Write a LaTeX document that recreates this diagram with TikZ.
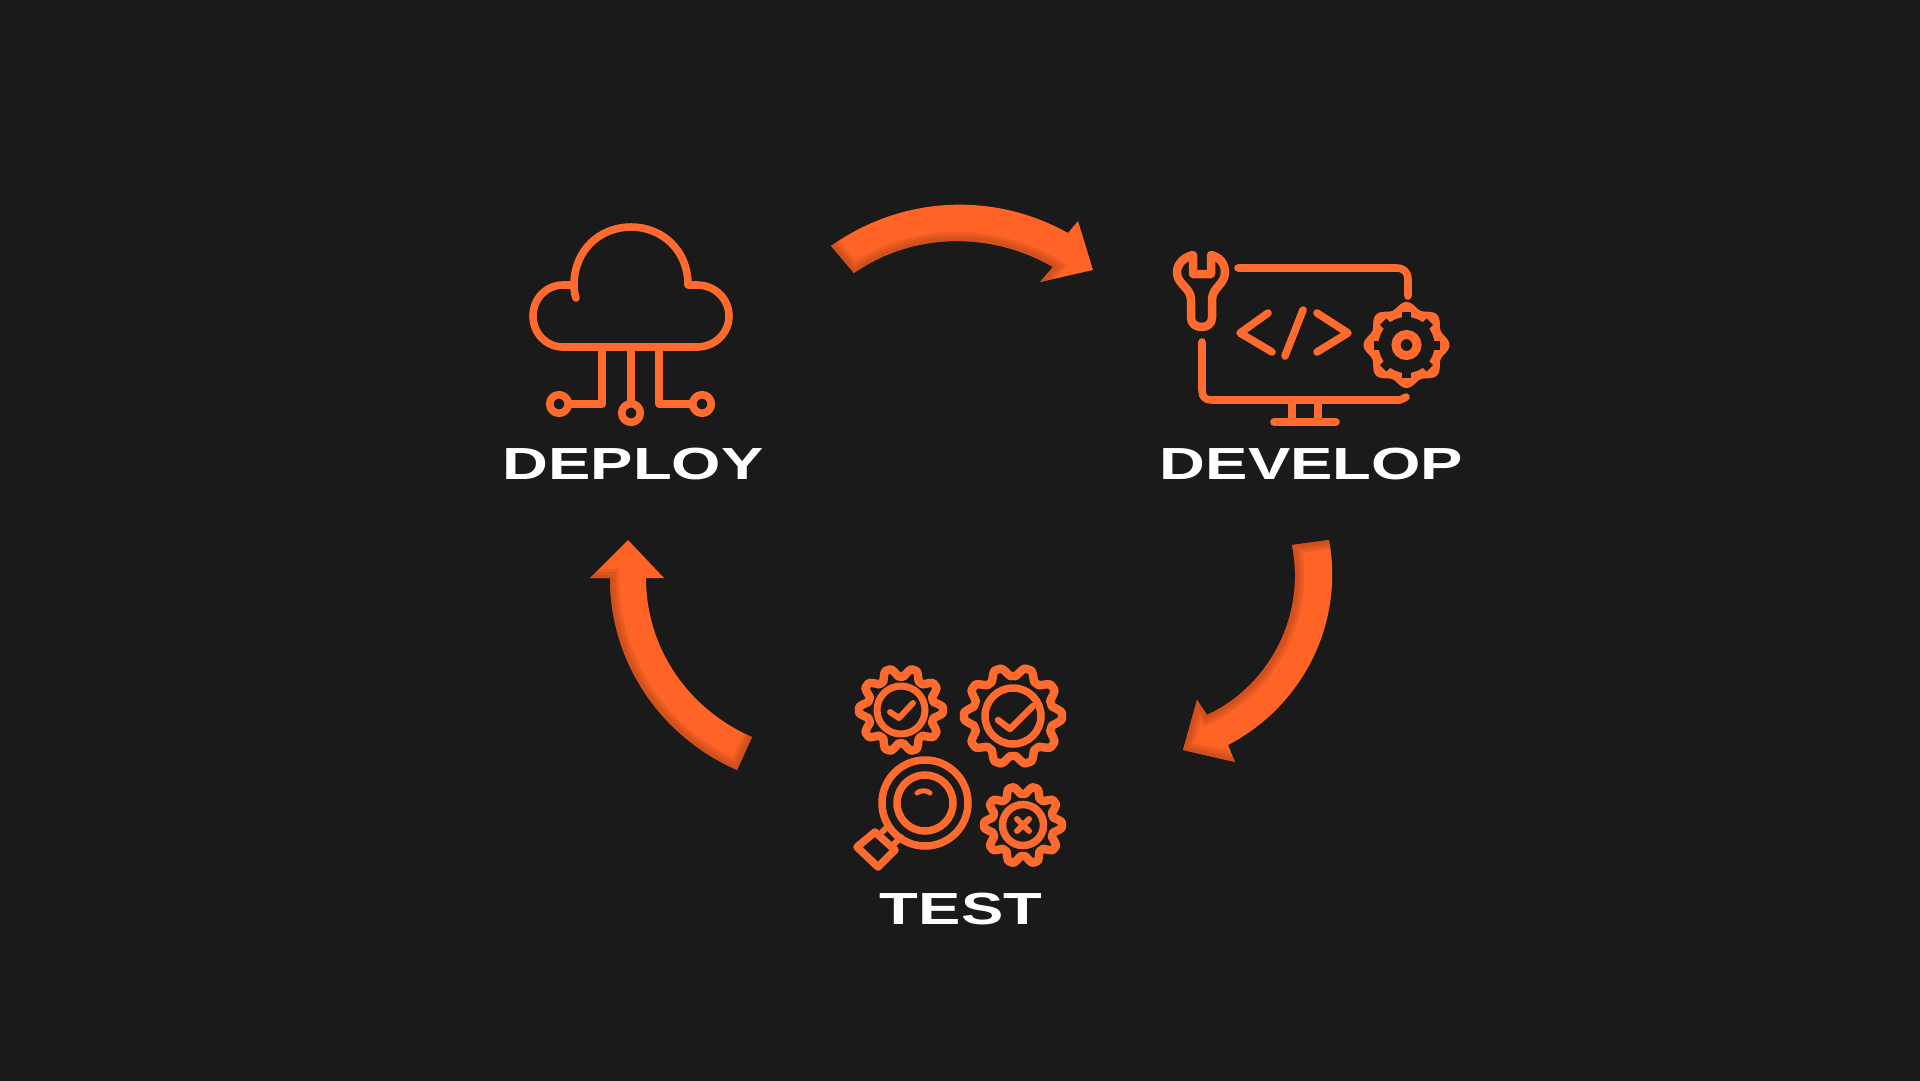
\documentclass[tikz,border=0pt]{standalone}
\usepackage{fontspec}
\newfontfamily\labelfont[FakeStretch=1.41]{Liberation Sans}
\definecolor{bgdark}{HTML}{1A1A1A}
\definecolor{iconorange}{HTML}{FF6B2E}
\definecolor{arroworange}{HTML}{FF6426}
\definecolor{arrowdark}{HTML}{B8461A}
\tikzset{
  iconline/.style={draw=iconorange,line width=7.6,line cap=round,line join=round},
  ringline/.style={draw=iconorange,line width=#1},
  steplabel/.style={anchor=base,text=white,inner sep=0,font=\labelfont\bfseries\fontsize{45}{45}\selectfont},
}
% r(t) = R + a*clipped cosine, n teeth
\newcommand{\gearline}[5]{
  \draw[iconline,line width=8.4] plot[domain=0:360,samples=181]
   ({#1+(#3+#4*max(-1,min(1,1.3*cos(#5*\x))))*cos(\x)},{#2+(#3+#4*max(-1,min(1,1.3*cos(#5*\x))))*sin(\x)}) -- cycle;
}
% soft dark edge inside an arrow
\newcommand{\shadeedge}[1]{
  \foreach \w in {18,12,7} {\draw[arrowdark,opacity=.28,line width=\w] #1;}
}
\begin{document}
\begin{tikzpicture}[x=1pt,y=-1pt]
  \useasboundingbox (0,0) rectangle (1920,1080);
  \fill[bgdark] (-3,-3) rectangle (1923,1083);

  % arrow deploy to develop
  \begin{scope}
    \path[clip] (831,246) .. controls (901,196) and (993,191) .. (1068,233) -- (1078,221) -- (1093,270) -- (1040,282) -- (1053,267) .. controls (991,231) and (913,232) .. (854,273) -- cycle;
    \fill[arroworange] (800,180) rectangle (1100,290);
    \shadeedge{(831,246) -- (854,273) .. controls (913,232) and (991,231) .. (1053,267) -- (1040,282)}
  \end{scope}
  % arrow develop to test
  \begin{scope}
    \path[clip] (1329,540) .. controls (1344.5,623) and (1303,706) .. (1228,745) -- (1235,762) -- (1183,750) -- (1197,700) -- (1207,715) .. controls (1271,685) and (1306,614) .. (1292,545) -- cycle;
    \fill[arroworange] (1170,530) rectangle (1350,770);
    \shadeedge{(1329,540) -- (1292,545) .. controls (1306,614) and (1271,685) .. (1207,715) -- (1197,700) -- (1183,750) -- (1235,762)}
  \end{scope}
  % arrow test to deploy
  \begin{scope}
    \path[clip] (628,540) -- (664,578) -- (646,578) .. controls (646,648) and (688,709) .. (752,737) -- (737,770) .. controls (660,736) and (610,662) .. (610,578) -- (590,578) -- cycle;
    \fill[arroworange] (580,530) rectangle (760,780);
    \shadeedge{(752,737) -- (737,770) .. controls (660,736) and (610,662) .. (610,578) -- (590,578)}
  \end{scope}

  % deploy icon
  \draw[iconline] (576,298) .. controls (574,292) and (574,288) .. (574,285)
    .. controls (574,250) and (600,227) .. (631,227)
    .. controls (662,227) and (688,250) .. (688,285) -- (697,285)
    .. controls (715,285) and (729,299) .. (729,316)
    .. controls (729,333) and (715,347) .. (697,347) -- (563,347)
    .. controls (546,347) and (533,333) .. (533,316)
    .. controls (533,299) and (546,285) .. (563,285) -- (574,285);
  \draw[iconline] (602,347) -- (602,404) -- (568,404);
  \draw[iconline] (631,347) -- (631,404);
  \draw[iconline] (659,347) -- (659,404) -- (693,404);
  \foreach \cx/\cy in {559/404,631/413,702/404}
    \filldraw[iconline,fill=bgdark] (\cx,\cy) circle (9.3);

  % develop icon
  \draw[iconline] (1238,268) -- (1396,268) .. controls (1404,268) and (1408,272) .. (1408,280) -- (1408,296);
  \draw[iconline] (1202,342) -- (1202,390) .. controls (1202,397) and (1205,400) .. (1212,400) -- (1400,400) -- (1406,397);
  \draw[iconline] (1292,403) -- (1292,422);
  \draw[iconline] (1318,403) -- (1318,422);
  \draw[iconline] (1274,422) -- (1336,422);
  \draw[iconline,line width=8.5] (1193,255) -- (1193,274) -- (1211,274) -- (1211,255)
    .. controls (1220,257) and (1225,264) .. (1225,272)
    .. controls (1225,285) and (1212,287) .. (1212,300) -- (1212,318)
    .. controls (1212,330) and (1191,330) .. (1191,318) -- (1191,300)
    .. controls (1191,287) and (1177,285) .. (1177,272)
    .. controls (1177,264) and (1184,257) .. (1193,255) -- cycle;
  \draw[iconline] (1268,313) -- (1240,333) -- (1272,352);
  \draw[iconline] (1303,310) -- (1285,356);
  \draw[iconline] (1317,313) -- (1348,333) -- (1317,352);
  \fill[iconorange] plot[domain=0:360,samples=181]
    ({1406.5+(40+3*cos(8*\x))*cos(\x)},{345+(40+3*cos(8*\x))*sin(\x)}) -- cycle;
  \fill[bgdark] (1406.5,345) circle (28);
  \foreach \a in {0,45,...,315}
    \fill[bgdark,rotate around={\a:(1406.5,345)}] (1402,312) rectangle (1411,325);
  \draw[ringline=9] (1406.5,345) circle (10.5);

  % test icon
  \gearline{901}{710}{37.7}{4.3}{10}
  \draw[ringline=7] (901,710) circle (24);
  \draw[iconline,line width=6] (890,712) -- (899,718) -- (913,703);
  \gearline{1013}{716}{44.5}{4.5}{10}
  \draw[ringline=7.5] (1013,716) circle (28);
  \draw[iconline,line width=6.5] (998,720) -- (1010,729) -- (1033,706);
  \gearline{1023}{825}{35}{4}{10}
  \draw[ringline=7.5] (1023,825) circle (20.5);
  \draw[iconline,line width=6] (1017,819) -- (1029,831);
  \draw[iconline,line width=6] (1029,819) -- (1017,831);
  \draw[ringline=7.5] (925,803) circle (43);
  \draw[ringline=7.5] (925,803) circle (28);
  \draw[iconline,line width=5] (917,793) .. controls (920,790) and (927,790) .. (930,793);
  \draw[iconline] (875,832) -- (895,850) -- (878,867) -- (857,847) -- cycle;
  \draw[iconline,line width=6] (882,832) -- (889,825);
  \draw[iconline,line width=6] (893,845) -- (901,837);

  % labels
  \node[steplabel] (deploy) at (633,479) {DEPLOY};
  \node[steplabel] (develop) at (1311.5,479) {DEVELOP};
  \node[steplabel] (test) at (961,924) {TEST};
\end{tikzpicture}
\end{document}
